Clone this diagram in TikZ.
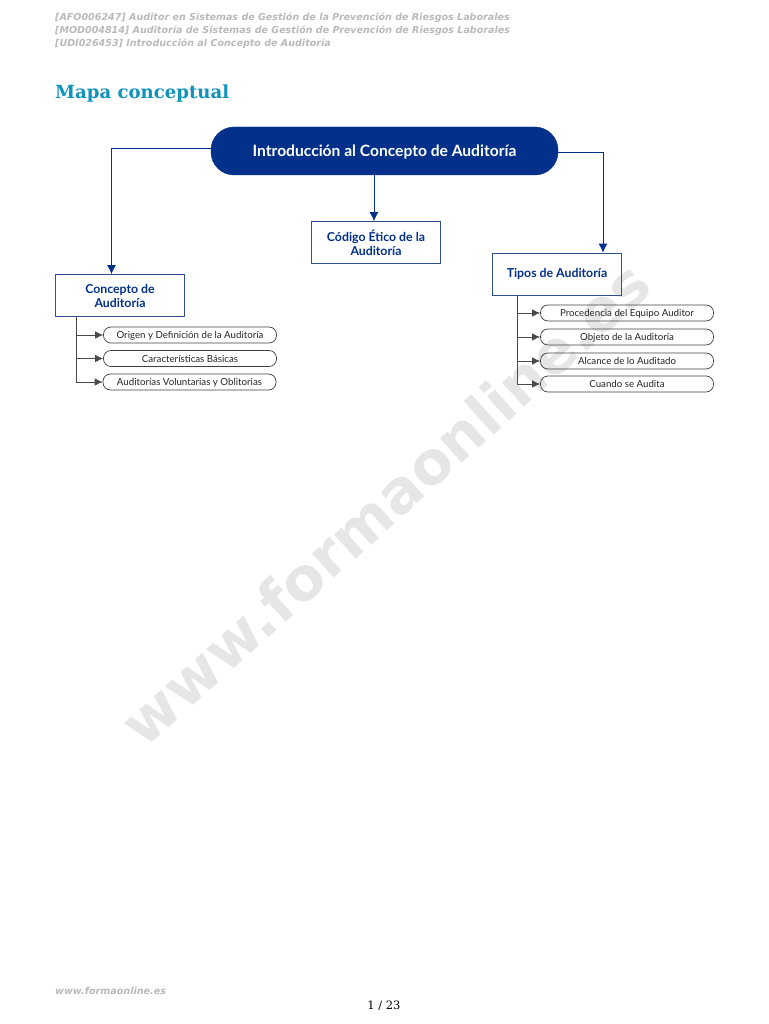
\documentclass[tikz,border=0pt]{standalone}
\usepackage{fontspec}
\setmainfont{Lato}
\newfontfamily\headfont{DejaVu Sans}
\newfontfamily\titlefont{DejaVu Serif}
\newfontfamily\pagefont{DejaVu Serif}
\definecolor{navy}{HTML}{02308A}
\definecolor{boxline}{HTML}{2F4F8F}
\definecolor{headgray}{HTML}{B9B9B9}
\definecolor{marca}{HTML}{E6E6E6}
\definecolor{titleblue}{HTML}{0F93BC}
\definecolor{branch}{HTML}{4A4A4A}
\usetikzlibrary{arrows.meta}
\tikzset{
  head/.style={anchor=west,inner sep=0pt,text=headgray,font=\headfont\bfseries\itshape\fontsize{9.55}{11}\selectfont},
  mainbox/.style={draw=navy,fill=navy,rounded corners=23pt,minimum width=347pt,minimum height=48pt,inner sep=0pt,text depth=0pt,text=white,font=\bfseries\fontsize{15.6}{18}\selectfont},
  topicbox/.style={draw=boxline,line width=.8pt,minimum width=129.5pt,minimum height=42pt,inner sep=0pt,align=center,text=navy,font=\bfseries\fontsize{12.3}{14}\selectfont},
  pill/.style={draw=black!75,rounded corners=7.5pt,line width=.7pt,minimum width=173pt,minimum height=16pt,inner sep=0pt,text depth=0pt,font=\fontsize{9.7}{11}\selectfont,text=black!85},
  link/.style={draw=boxline,line width=.8pt,-{Latex[length=9pt,width=9pt]},color=navy},
  twig/.style={draw=branch,line width=.7pt,-{Latex[length=8pt,width=7.5pt]}}
}
\begin{document}
\begin{tikzpicture}[x=1pt,y=-1pt]
  \useasboundingbox (0,0) rectangle (768,1024);
  \node[rotate=42,text=marca,font=\headfont\bfseries\fontsize{59.5}{62}\selectfont,inner sep=0pt] (marca) at (385,503) {www.formaonline.es};
  \node[head] (afo) at (55,17.5) {[AFO006247] Auditor en Sistemas de Gestión de la Prevención de Riesgos Laborales};
  \node[head] (mod) at (55,31) {[MOD004814] Auditoría de Sistemas de Gestión de Prevención de Riesgos Laborales};
  \node[head] (udi) at (55,44) {[UDI026453] Introducción al Concepto de Auditoría};
  \node[anchor=west,inner sep=0pt,text=titleblue,font=\titlefont\bfseries\fontsize{18.1}{20}\selectfont] (mapa) at (55,94) {Mapa conceptual};
  \node[mainbox] (main) at (384.5,151) {Introducción al Concepto de Auditoría};
  \node[topicbox] (concepto) at (120,295.5) {Concepto de\\Auditoría};
  \node[topicbox] (codigo) at (376,242.5) {Código Ético de la\\Auditoría};
  \node[topicbox] (tipos) at (557,274) {Tipos de Auditoría};
  \node[pill] (origen) at (190,335) {Origen y Definición de la Auditoría};
  \node[pill] (carac) at (190,358.5) {Características Básicas};
  \node[pill] (volun) at (189.5,382) {Auditorías Voluntarias y Oblitorias};
  \node[pill] (proce) at (627,313) {Procedencia del Equipo Auditor};
  \node[pill] (objeto) at (627,337) {Objeto de la Auditoría};
  \node[pill] (alcance) at (627,361) {Alcance de lo Auditado};
  \node[pill] (cuando) at (627,384) {Cuando se Audita};
  \coordinate (mainl) at (211,148);
  \coordinate (mainr) at (558,152);
  \coordinate (trunkl) at (76,317);
  \coordinate (trunkr) at (517,295);
  \draw[link] (mainl) -| ([xshift=-8.5pt]concepto.north);
  \draw[link] ([xshift=-2pt]main.south -| codigo.north) -- ([xshift=-2pt]codigo.north);
  \draw[link] (mainr) -| ([xshift=46pt]tipos.north);
  \foreach \leaf in {origen,carac,volun}
    \draw[twig] (trunkl) |- (\leaf.west);
  \foreach \leaf in {proce,objeto,alcance,cuando}
    \draw[twig] (trunkr) |- (\leaf.west);
  \node[anchor=west,inner sep=0pt,text=headgray,font=\headfont\bfseries\itshape\fontsize{9.6}{11}\selectfont] (web) at (55,991) {www.formaonline.es};
  \node[inner sep=0pt,font=\pagefont\fontsize{11.5}{13}\selectfont] (pagina) at (384,1005.5) {1 / 23};
\end{tikzpicture}
\end{document}
